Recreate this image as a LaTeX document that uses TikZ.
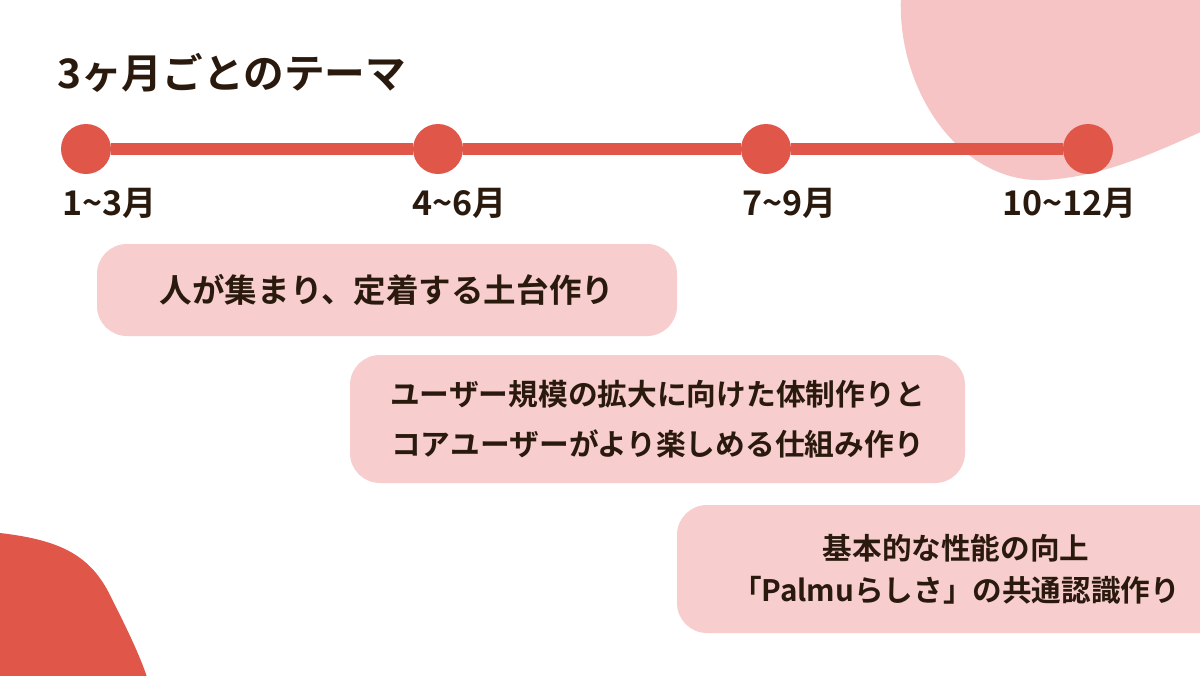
\documentclass[tikz,border=0pt]{standalone}
\usepackage{fontspec}
\setmainfont{Noto Sans CJK JP}[BoldFont={* Bold}]
\usepackage{tikz}
\usetikzlibrary{positioning}
\definecolor{themered}{HTML}{E0574A}
\definecolor{themepink}{HTML}{F7CDCD}
\definecolor{blobpink}{HTML}{F6C4C4}
\definecolor{ink}{HTML}{2A1A0E}
\newcommand{\tld}{\textasciitilde}

\begin{document}
\begin{tikzpicture}[x=0.75pt, y=-0.75pt, font=\bfseries, text=ink,
  dot/.style={circle, fill=themered, minimum size=37.5pt, inner sep=0pt},
  month/.style={anchor=west, inner sep=0pt, font=\bfseries\fontsize{25.5}{28}\selectfont},
  theme/.style={fill=themepink, rounded corners=22.5pt, align=center, inner sep=0pt, minimum height=69pt}]
  \clip (0,0) rectangle (1200,675);
  \fill[white] (0,0) rectangle (1200,675);
  % blobs
  \fill[blobpink] (901,-5) .. controls (896,90) and (960,184) .. (1045,180)
    .. controls (1100,177) and (1150,155) .. (1205,130) -- (1205,-5) -- cycle;
  \fill[themered] (-5,532) -- (0,533) .. controls (60,540) and (90,555) .. (110,595)
    .. controls (125,625) and (140,655) .. (148,680) -- (-5,680) -- cycle;
  % title
  \node[anchor=west, inner sep=0pt, font=\bfseries\fontsize{30.5}{34}\selectfont] (title) at (57,73) {3ヶ月ごとのテーマ};
  % timeline
  \node[dot] (m1) at (86,149) {};
  \node[dot] (m2) at (438,149) {};
  \node[dot] (m3) at (766,149) {};
  \node[dot] (m4) at (1088,149) {};
  \foreach \a/\b in {m1/m2, m2/m3, m3/m4}
    \draw[themered, line width=9pt] (\a) -- (\b);
  \node[month] (lab1) at (62,203) {1\tld3月};
  \node[month] (lab2) at (412,203) {4\tld6月};
  \node[month] (lab3) at (742,203) {7\tld9月};
  \node[month] (lab4) at (1002,203) {10\tld12月};
  % themes
  \node[theme, minimum width=435pt, font=\bfseries\fontsize{24.4}{28}\selectfont] (th1) at (387,290)
    {人が集まり、定着する土台作り};
  \node[theme, minimum width=461.25pt, minimum height=96pt, font=\bfseries\fontsize{22.3}{37.5}\selectfont] (th2) at (657.5,419)
    {ユーザー規模の拡大に向けた体制作りと\\コアユーザーがより楽しめる仕組み作り};
  \node[theme, minimum width=418.5pt, minimum height=96pt, font=\bfseries\fontsize{22.2}{31.5}\selectfont] (th3) at (956,569)
    {基本的な性能の向上\\「Palmuらしさ」の共通認識作り};
\end{tikzpicture}
\end{document}
